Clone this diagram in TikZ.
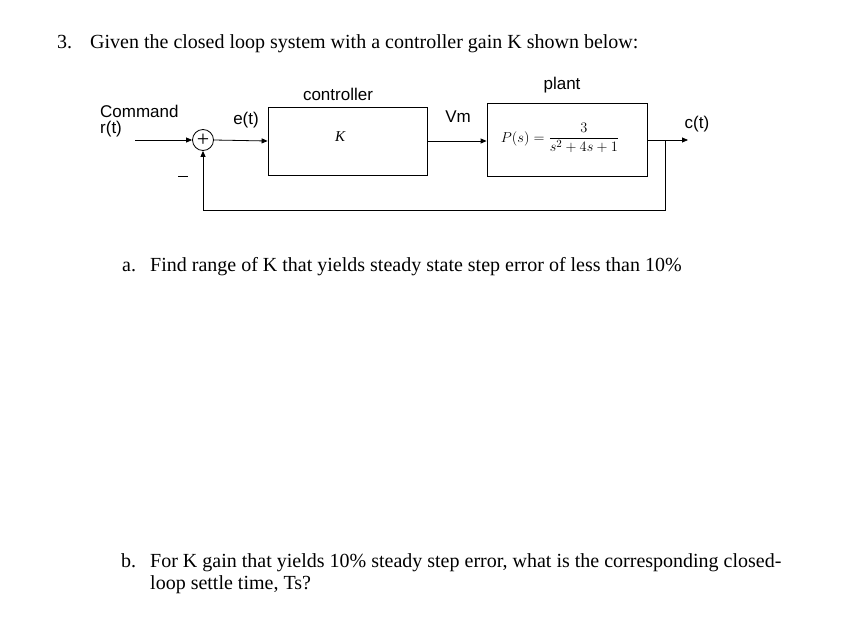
\documentclass[tikz,border=0pt]{standalone}
\usepackage{fontspec}
\setmainfont{Liberation Serif}
\newfontfamily\arial{Liberation Sans}
\usetikzlibrary{arrows.meta}
\begin{document}
\begin{tikzpicture}[x=1pt,y=-1pt,
  blk/.style={draw,thick,inner sep=0},
  lbl/.style={font=\arial\fontsize{17}{19}\selectfont,inner sep=0},
  txt/.style={font=\fontsize{20}{23}\selectfont,inner sep=0,anchor=base west},
  sig/.style={thick,-{Triangle[length=6pt,width=5pt]}}]
\useasboundingbox (0,0) rectangle (856,629);
\node[txt] (n3) at (57,48) {3.};
\node[txt] (t3) at (90,48) {Given the closed loop system with a controller gain K shown below:};
\node[circle,draw,thick,minimum size=21pt,inner sep=0] (sum) at (203,140) {};
\node[font=\fontsize{22}{22}\selectfont,inner sep=0] (plus) at (203,140) {+};
\node[blk,minimum width=159pt,minimum height=68pt] (ctrl) at (347.5,141) {};
\node[font=\itshape\fontsize{15}{17}\selectfont] (k) at (340,137) {K};
\node[blk,minimum width=160pt,minimum height=73pt] (plant) at (567,139.5) {};
\node[inner sep=0,font=\fontsize{15}{17}\selectfont] (pf) at (560,138) {$P(s)=\displaystyle\frac{3}{s^{2}+4s+1}$};
\node[lbl,anchor=west] (cmd) at (100,111) {Command};
\node[lbl,anchor=west] (rt) at (100,129) {r(t)};
\node[lbl] (et) at (246,120) {e(t)};
\node[lbl] (cl) at (338,94) {controller};
\node[lbl] (vm) at (458,117) {Vm};
\node[lbl] (pl) at (562,85) {plant};
\node[lbl] (ct) at (697,124) {c(t)};
\coordinate (m1) at (178,176);
\coordinate (m2) at (188,176);
\draw[thick] (m1) -- (m2);
\coordinate (in) at (135,140);
\coordinate (out) at (688,140);
\coordinate (tap) at (665,140);
\coordinate (fb1) at (665,210);
\coordinate (fb2) at (203,210);
\draw[sig] (in) -- (sum.west);
\draw[sig] (sum.east) -- (ctrl.west);
\draw[sig] (ctrl.east) -- (plant.west |- ctrl.east);
\draw[sig] (plant.east |- out) -- (out);
\draw[sig] (tap) -- (fb1) -- (fb2) -- (sum.south);
\node[txt] (na) at (122,271) {a.};
\node[txt] (qa) at (150,271) {Find range of K that yields steady state step error of less than 10\%};
\node[txt] (nb) at (121,567) {b.};
\node[txt] (qb) at (150,567) {For K gain that yields 10\% steady step error, what is the corresponding closed-};
\node[txt] (qb2) at (150,589) {loop settle time, Ts?};
\end{tikzpicture}
\end{document}
